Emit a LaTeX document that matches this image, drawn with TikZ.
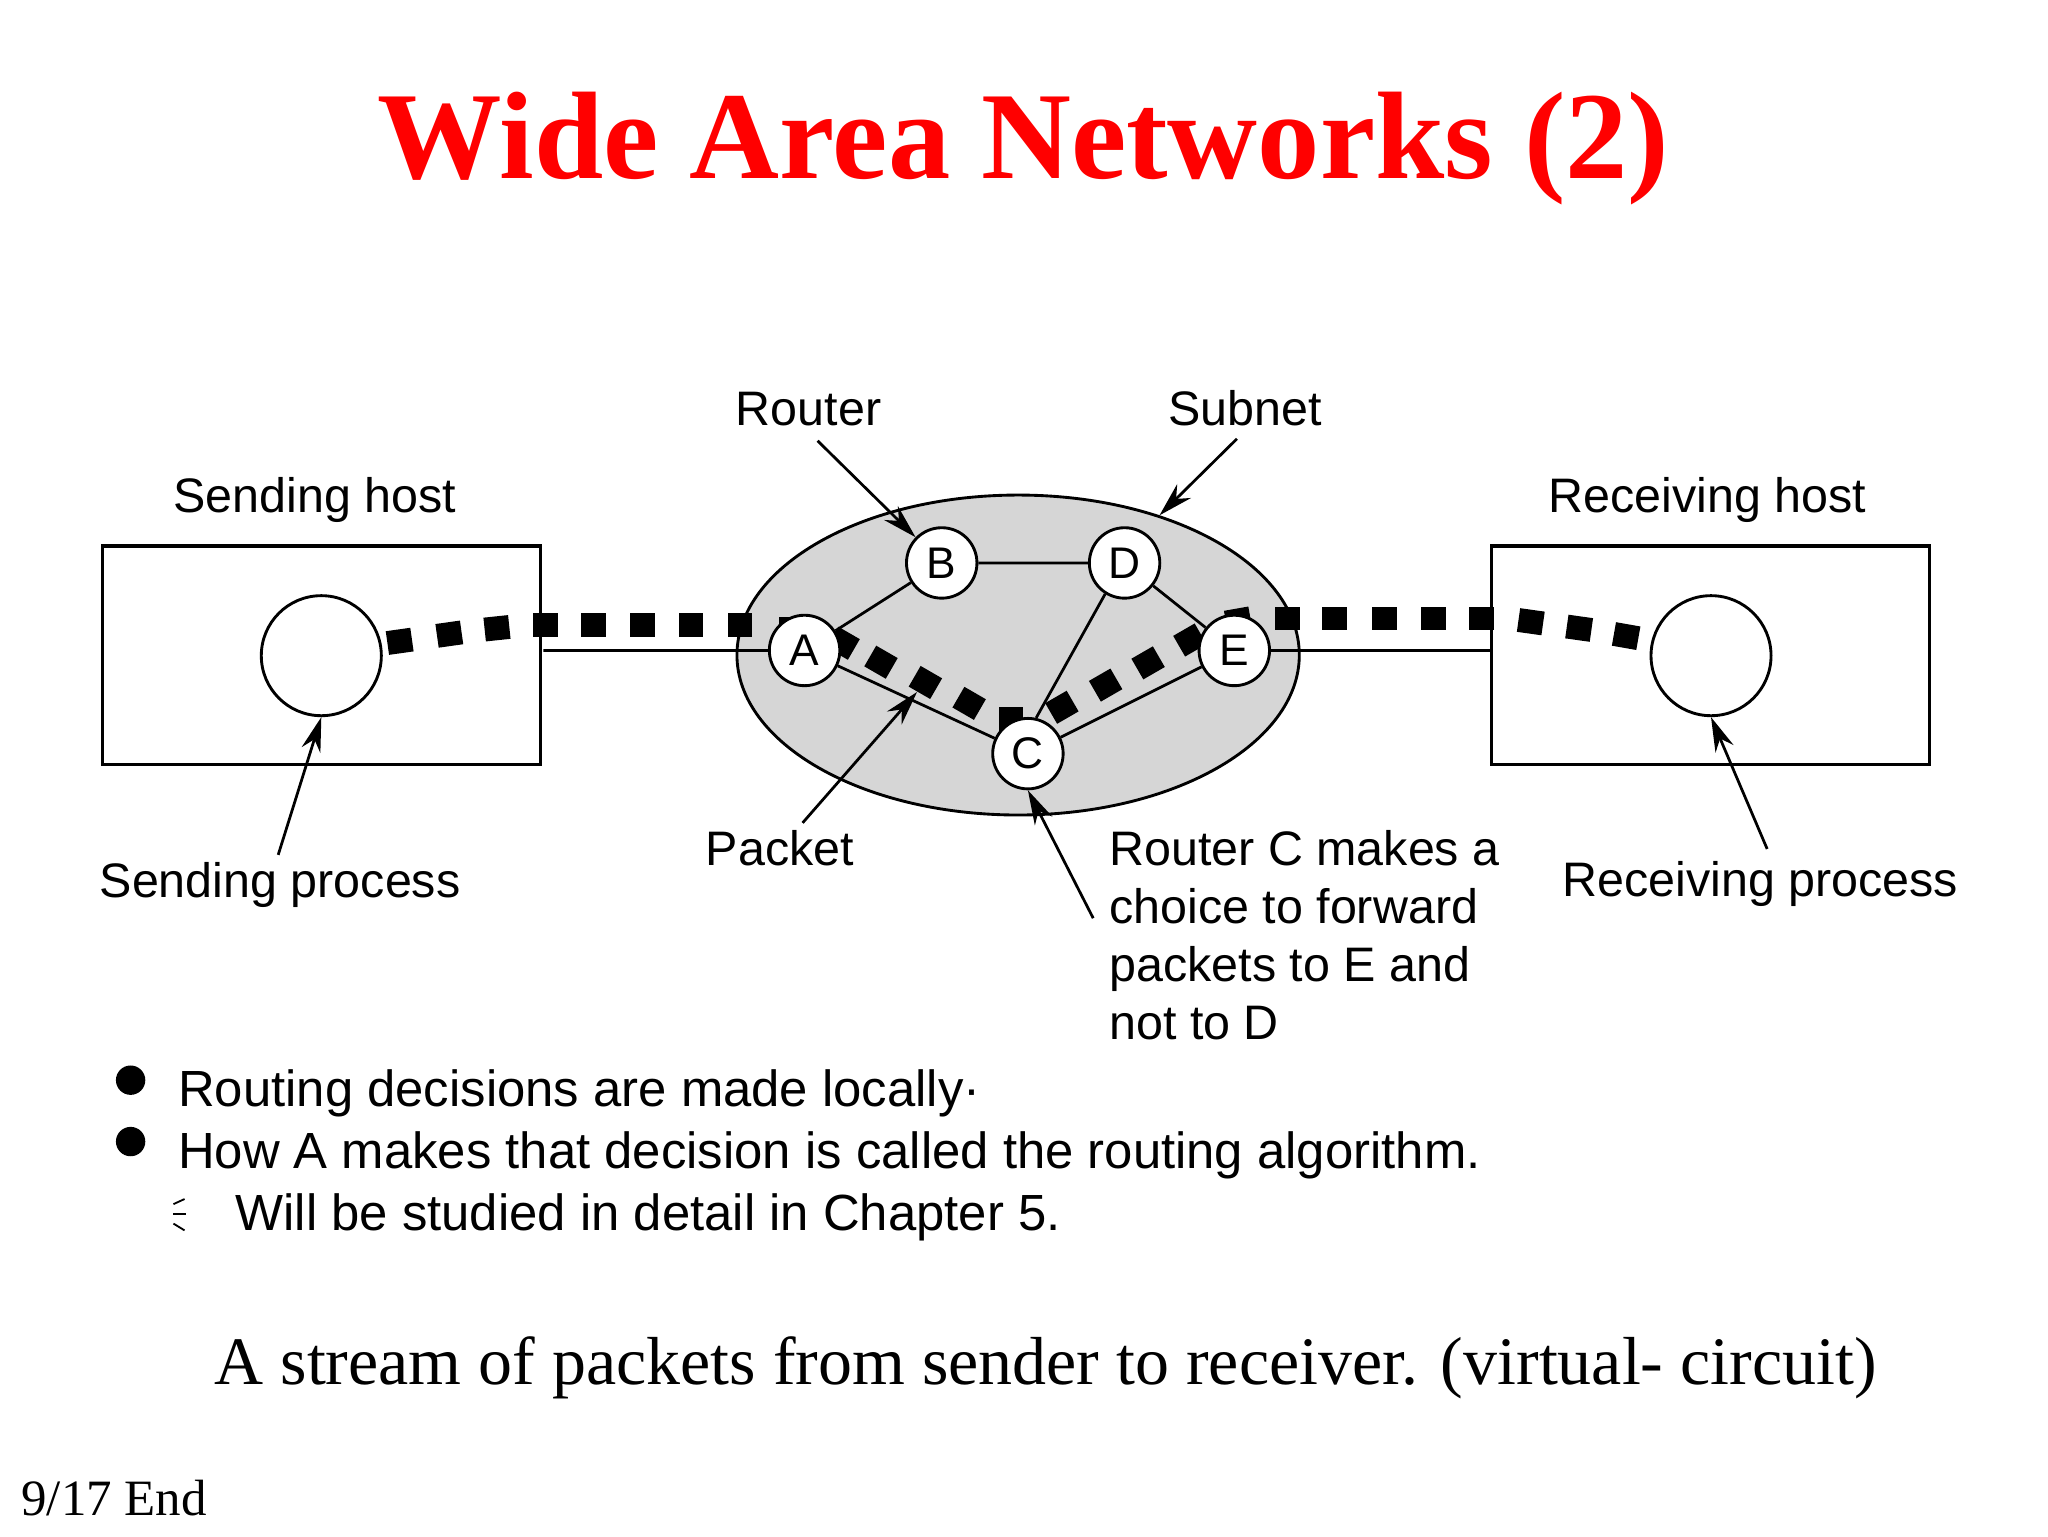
\documentclass[tikz,border=0pt]{standalone}
\usepackage{fontspec}
\usepackage{xcolor}
\setmainfont{Liberation Serif}
\newfontfamily\lblfont{Liberation Sans}
\usetikzlibrary{shapes.geometric,arrows.meta}
\definecolor{subnetgray}{HTML}{D6D6D6}
\begin{document}
\begin{tikzpicture}[scale=0.2]
	\tikzstyle{every node}+=[inner sep=0pt]
	\tikzstyle{lbl}=[anchor=base west,font=\lblfont\fontsize{21.1}{25.2}\selectfont]
	\tikzstyle{bullettext}=[anchor=base west,font=\lblfont\fontsize{22.15}{26}\selectfont]
	\tikzstyle{router}=[draw=black,fill=white,circle,line width=1.25pt,minimum size=30.7pt,font=\lblfont\fontsize{19.3}{23}\selectfont]
	\tikzstyle{hostbox}=[draw=black,rectangle,line width=1.35pt,minimum width=191pt,minimum height=95pt]
	\tikzstyle{process}=[draw=black,circle,line width=1.25pt,minimum size=52.3pt]
	\tikzstyle{pkt}=[fill=black,rectangle,minimum width=10.8pt,minimum height=10.4pt]
	\tikzstyle{link}=[black,line width=1.2pt]
	\tikzstyle{arw}=[black,line width=1.2pt,-{Stealth[length=15pt,width=8.5pt]}]
	\useasboundingbox (0,0) rectangle (156.8,-117.6);
	% title
	\node [anchor=base,text=red,font=\bfseries\fontsize{54.25}{60}\selectfont] (title) at (78.35,-13.7) {Wide Area Networks (2)};
	% hosts and subnet
	\node [hostbox] (sendhost) at (24.6,-50.15) {};
	\node [hostbox] (recvhost) at (130.95,-50.15) {};
	\node [process] (sendproc) at (24.6,-50.2) {};
	\node [process] (recvproc) at (131,-50.2) {};
	\node [draw=black,fill=subnetgray,ellipse,line width=1.25pt,minimum width=245pt,minimum height=139.4pt] (subnet) at (77.95,-50.15) {};
	% packets
	\node [pkt,rotate=8] (p1) at (30.6,-49.1) {};
	\node [pkt,rotate=8] (p2) at (34.4,-48.55) {};
	\node [pkt,rotate=6] (p3) at (38.05,-48.1) {};
	\node [pkt] (p4) at (41.75,-47.85) {};
	\node [pkt] (p5) at (45.45,-47.85) {};
	\node [pkt] (p6) at (49.2,-47.85) {};
	\node [pkt] (p7) at (52.9,-47.85) {};
	\node [pkt] (p8) at (56.65,-47.85) {};
	\node [pkt] (p9) at (60.6,-48.15) {};
	\node [pkt,rotate=-30] (p10) at (64.55,-49.25) {};
	\node [pkt,rotate=-30] (p11) at (67.45,-50.7) {};
	\node [pkt,rotate=-30] (p12) at (70.85,-52.25) {};
	\node [pkt,rotate=-30] (p13) at (74.2,-53.85) {};
	\node [pkt] (p14) at (77.4,-55.05) {};
	\node [pkt,rotate=30] (p15) at (81.3,-54.15) {};
	\node [pkt,rotate=30] (p16) at (84.65,-52.45) {};
	\node [pkt,rotate=30] (p17) at (87.9,-50.75) {};
	\node [pkt,rotate=30] (p18) at (91.1,-49) {};
	\node [pkt,rotate=10] (p19) at (94.8,-47.5) {};
	\node [pkt] (p20) at (98.55,-47.35) {};
	\node [pkt] (p21) at (102.2,-47.35) {};
	\node [pkt] (p22) at (106,-47.35) {};
	\node [pkt] (p23) at (109.75,-47.35) {};
	\node [pkt] (p24) at (113.4,-47.35) {};
	\node [pkt,rotate=-8] (p25) at (117.2,-47.6) {};
	\node [pkt,rotate=-8] (p26) at (120.9,-48.1) {};
	\node [pkt,rotate=-10] (p27) at (124.5,-48.7) {};
	% routers
	\node [router] (A) at (61.6,-49.8) {A};
	\node [router] (B) at (72.1,-43.1) {B};
	\node [router] (D) at (86.1,-43.1) {D};
	\node [router] (E) at (94.5,-49.8) {E};
	\node [router] (C) at (78.7,-57.7) {C};
	\draw [link] (A) -- (B);
	\draw [link] (B) -- (D);
	\draw [link] (D) -- (E);
	\draw [link] (D.238) -- (C.77);
	\draw [link] (A) -- (C);
	\draw [link] (C) -- (E);
	\coordinate (hostl) at (41.6,-49.8);
	\coordinate (hostr) at (114.2,-49.8);
	\draw [link] (hostl) -- (A);
	\draw [link] (E) -- (hostr);
	% labels
	\node [lbl] (routerlbl) at (56.3,-32.55) {Router};
	\node [lbl] (subnetlbl) at (89.4,-32.55) {Subnet};
	\node [lbl] (sendhostlbl) at (13.25,-39.2) {Sending host};
	\node [lbl] (recvhostlbl) at (118.55,-39.2) {Receiving host};
	\node [lbl] (sendproclbl) at (7.6,-68.75) {Sending process};
	\node [lbl] (recvproclbl) at (119.6,-68.6) {Receiving process};
	\node [lbl] (packetlbl) at (54,-66.3) {Packet};
	\node [lbl,anchor=north west,align=left] (choicelbl) at (84.9,-63.55) {Router C makes a\\choice to forward\\packets to E and\\not to D};
	% arrows
	\coordinate (routerarw) at (62.6,-33.75);
	\coordinate (subnetarw) at (94.7,-33.6);
	\coordinate (packetarw) at (61.45,-63);
	\coordinate (choicearw) at (83.7,-70.3);
	\coordinate (sendarw) at (21.3,-65.45);
	\coordinate (recvarw) at (135.3,-65);
	\draw [arw] (routerarw) -- (B);
	\draw [arw] (subnetarw) -- (subnet);
	\draw [arw] (packetarw) -- (p12);
	\draw [arw] (choicearw) -- (C.south);
	\draw [arw] (sendarw) -- (sendproc.south);
	\draw [arw] (recvarw) -- (recvproc.south);
	% bullets
	\node [fill=black,circle,minimum size=12.8pt] (dot1) at (10,-82.7) {};
	\node [fill=black,circle,minimum size=12.8pt] (dot2) at (10,-87.4) {};
	\node [bullettext] (line1) at (13.6,-84.75) {Routing decisions are made locally·};
	\node [bullettext] (line2) at (13.6,-89.45) {How A makes that decision is called the routing algorithm.};
	\node [bullettext] (line3) at (18,-94.2) {Will be studied in detail in Chapter 5.};
	\draw [black,line width=0.8pt] (13.28,-92.19) -- (14.13,-91.8);
	\draw [black,line width=0.8pt] (13.28,-92.95) -- (14.22,-92.95);
	\draw [black,line width=0.8pt] (13.28,-93.68) -- (14.13,-94.2);
	% caption
	\node [anchor=base,font=\fontsize{29.6}{34}\selectfont] (caption) at (80.05,-106) {A stream of packets from sender to receiver. (virtual- circuit)};
	\node [anchor=base west,font=\fontsize{22.2}{26}\selectfont] (pagenote) at (1.6,-116) {9/17 End};
\end{tikzpicture}
\end{document}
